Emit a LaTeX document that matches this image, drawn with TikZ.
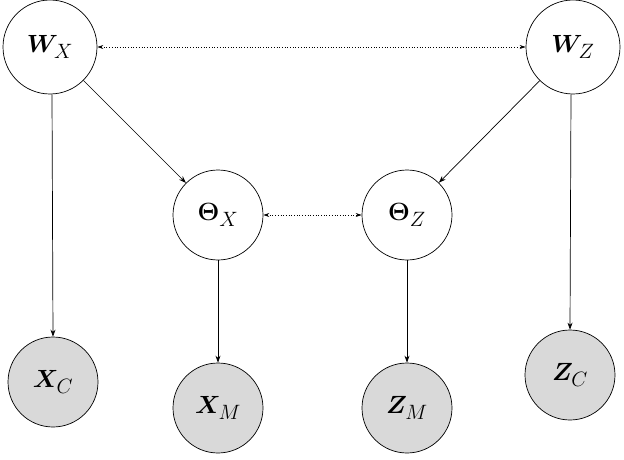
\documentclass[tikz,border=0pt]{standalone}
\usepackage{amsmath,bm}
\usetikzlibrary{arrows.meta}
\begin{document}
\begin{tikzpicture}[x=1pt,y=-1pt,line width=0.7pt,
  v/.style={circle,draw,minimum size=90pt,inner sep=0pt,font=\fontsize{28}{32}\selectfont},
  lat/.style={v,fill=white},
  obs/.style={v,fill=black!15},
  ar/.style={-{Stealth[length=7pt,width=5pt]}},
  da/.style={{Stealth[length=6pt,width=4pt]}-{Stealth[length=6pt,width=4pt]},dotted}]
\useasboundingbox (0,0) rectangle (624,460);
\node[lat,minimum size=94pt] (wx) at (50,47) {$\bm{W}_X$};
\node[lat,minimum size=94pt] (wz) at (573,47) {$\bm{W}_Z$};
\node[lat] (tx) at (218,215) {$\bm{\Theta}_X$};
\node[lat] (tz) at (407,215) {$\bm{\Theta}_Z$};
\node[obs] (xc) at (53,382) {$\bm{X}_C$};
\node[obs] (xm) at (218,408) {$\bm{X}_M$};
\node[obs] (zm) at (407,408) {$\bm{Z}_M$};
\node[obs] (zc) at (570,375) {$\bm{Z}_C$};
\draw[da] (wx) -- (wz);
\draw[da] (tx) -- (tz);
\draw[ar] (wx) -- (tx);
\draw[ar] (wz) -- (tz);
\draw[ar] (wx.south) ++(2,0) -- (xc.north);
\draw[ar] (wz.south) ++(-2,0) -- (zc.north);
\draw[ar] (tx) -- (xm);
\draw[ar] (tz) -- (zm);
\end{tikzpicture}
\end{document}
